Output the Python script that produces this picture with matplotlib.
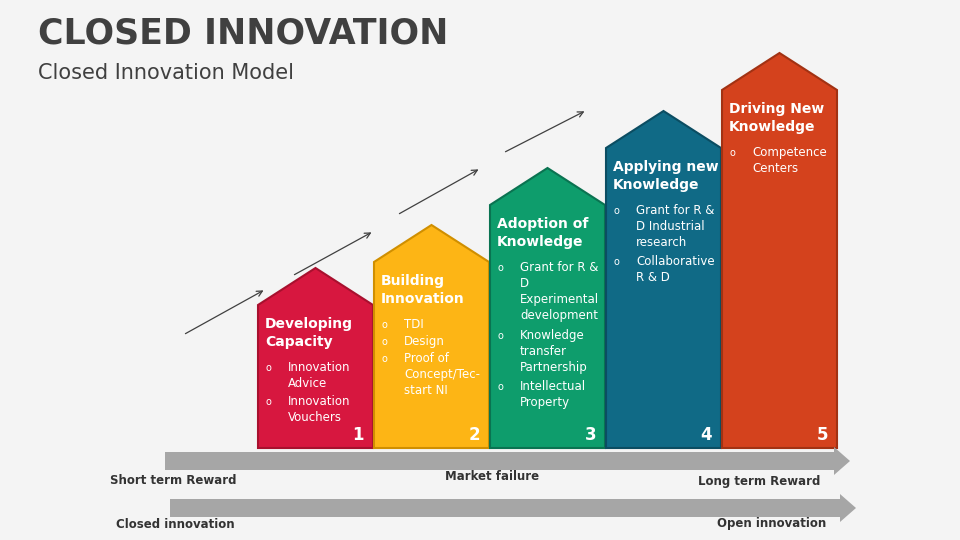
import matplotlib
matplotlib.use("Agg")
import matplotlib.pyplot as plt
from matplotlib.patches import Polygon, FancyArrow

titles = ["Developing\nCapacity", "Building\nInnovation", "Adoption of\nKnowledge", "Applying new\nKnowledge", "Driving New\nKnowledge"]
bullets = [["Innovation\nAdvice", "Innovation\nVouchers"],
           ["TDI", "Design", "Proof of\nConcept/Tec-\nstart NI"],
           ["Grant for R &\nD\nExperimental\ndevelopment", "Knowledge\ntransfer\nPartnership", "Intellectual\nProperty"],
           ["Grant for R &\nD Industrial\nresearch", "Collaborative\nR & D"],
           ["Competence\nCenters"]]
numbers = ["1", "2", "3", "4", "5"]
shoulders = [305, 262, 205, 148, 90]
colors = ["#D7173F", "#FDB515", "#0E9D6C", "#106A86", "#D4421D"]
edges = ["#A8102E", "#D08F00", "#0A7351", "#0B4D62", "#A23213"]

fig = plt.figure(figsize=(9.6, 5.4), dpi=100)
fig.patch.set_facecolor("#F4F4F4")
ax = fig.add_axes([0, 0, 1, 1])
ax.set_xlim(0, 960); ax.set_ylim(540, 0); ax.axis("off")

fig.text(38/960, 1-34/540, "CLOSED INNOVATION", fontsize=25, fontweight="bold", color="#404040", va="center")
fig.text(38/960, 1-73/540, "Closed Innovation Model", fontsize=15, color="#404040", va="center")

x0, w, base, roof = 258, 116, 448, 37
lh = 17
for i in range(5):
    l = x0 + i*w; r = l + w - 1; s = shoulders[i]
    ax.add_patch(Polygon([(l, base), (l, s), ((l+r)/2, s-roof), (r, s), (r, base)],
                         closed=True, fc=colors[i], ec=edges[i], lw=1.5))
    ty = s + 12
    ax.text(l+7, ty, titles[i], color="white", fontsize=10, fontweight="bold", va="top", linespacing=1.35)
    y = ty + 2*19 + 8
    for b in bullets[i]:
        ax.text(l+8, y, "o", color="white", fontsize=7, va="top")
        ax.text(l+30, y-2, b, color="white", fontsize=8.5, va="top", linespacing=1.3)
        y += lh*(b.count("\n")+1)
    ax.text(r-9, base-4, numbers[i], color="white", fontsize=12, fontweight="bold", ha="right", va="bottom")

for (ys, xs, xe) in [(461, 165, 850), (508, 170, 856)]:
    ax.add_patch(FancyArrow(xs, ys, xe-xs, 0, width=18, head_width=28, head_length=16,
                            length_includes_head=True, fc="#A6A6A6", ec="none"))

lab = dict(fontsize=8.5, fontweight="bold", color="#333333", va="center")
ax.text(110, 480, "Short term Reward", **lab)
ax.text(492, 477, "Market failure", ha="center", **lab)
ax.text(820, 481, "Long term Reward", ha="right", **lab)
ax.text(116, 524, "Closed innovation", **lab)
ax.text(826, 524, "Open innovation", ha="right", **lab)

for (a, b) in [((183, 335), (266, 289)), ((292, 276), (374, 231)), ((397, 215), (481, 168)), ((503, 153), (587, 110))]:
    ax.annotate("", xy=b, xytext=a, arrowprops=dict(arrowstyle="->", color="#404040", lw=0.9))

fig.savefig("out.png", dpi=100, facecolor=fig.get_facecolor())
